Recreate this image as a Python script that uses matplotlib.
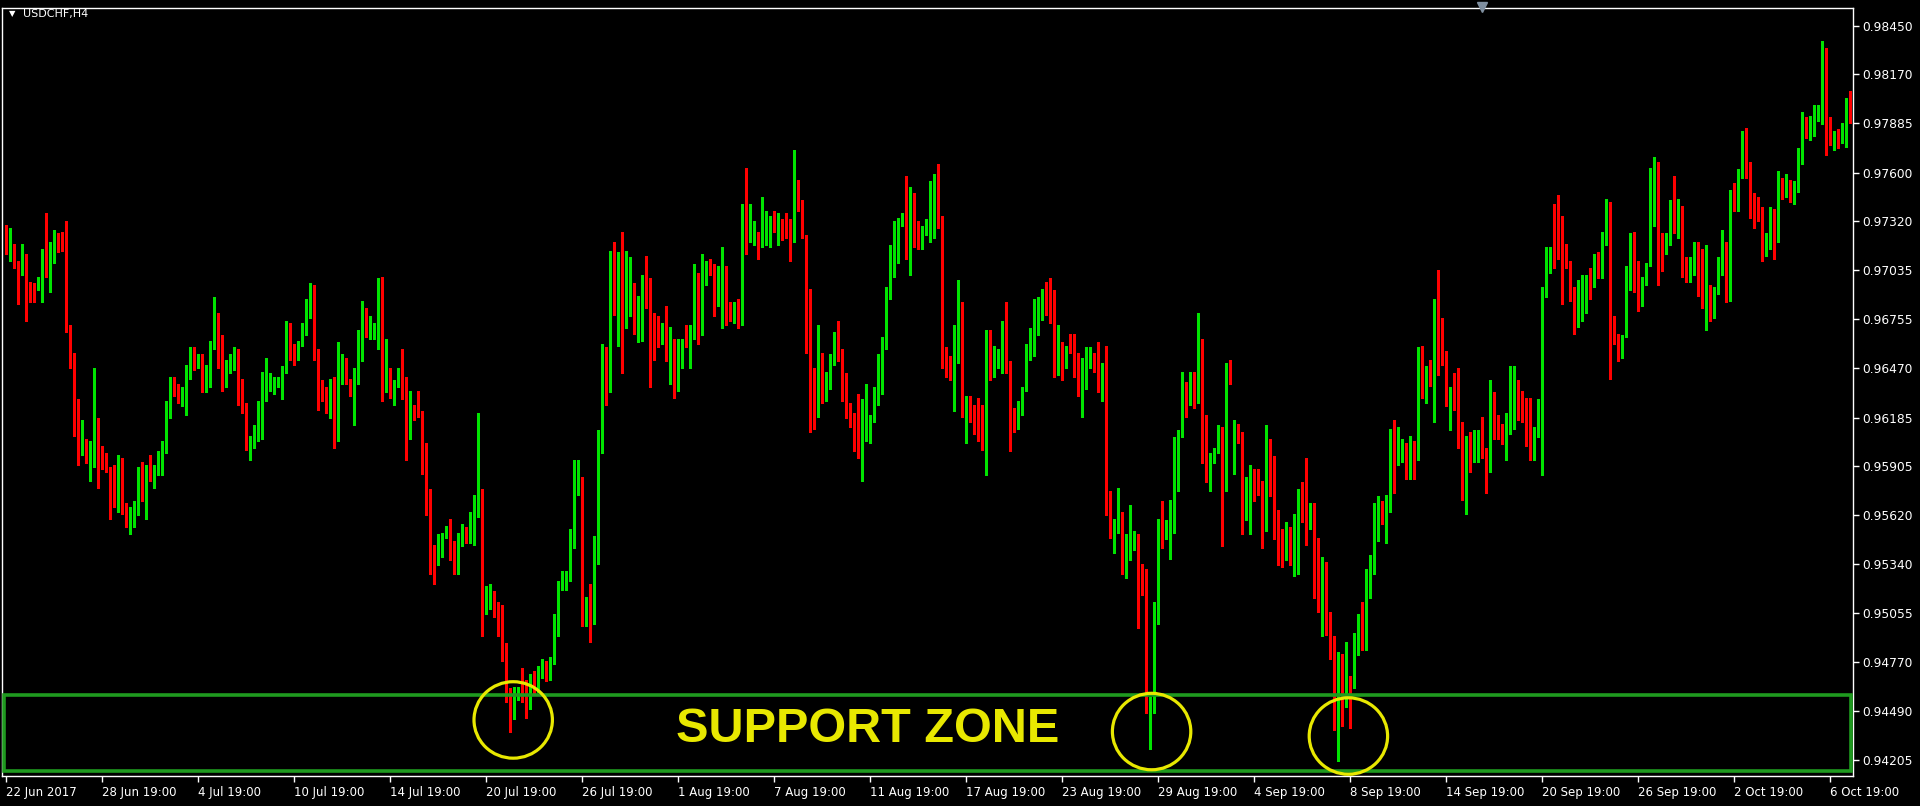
import numpy as np
import matplotlib
matplotlib.use('Agg')
import matplotlib.pyplot as plt
import matplotlib.transforms as mtransforms
from matplotlib.patches import Rectangle, Ellipse

# USDCHF H4 candles, prices stored as pips above 0.94000
BASE, PIP = 0.94, 0.0001

opens_pips = [
    319, 316, 317, 306, 303, 312, 293, 295, 292, 299, 310, 304, 317, 322, 320, 318, 269, 256, 224, 199,
    204, 202, 203, 217, 200, 195, 189, 182, 167, 192, 164, 157, 166, 169, 185, 178, 189, 183, 189, 196,
    203, 220, 242, 235, 228, 229, 241, 252, 250, 251, 243, 248, 262, 271, 249, 238, 245, 250, 253, 234,
    222, 200, 205, 208, 220, 232, 239, 234, 239, 240, 245, 269, 260, 255, 261, 270, 285, 286, 257, 234,
    231, 222, 232, 206, 242, 250, 239, 232, 241, 254, 282, 266, 269, 270, 290, 236, 246, 228, 238, 242,
    237, 209, 226, 222, 222, 198, 174, 141, 137, 147, 150, 155, 137, 135, 145, 155, 149, 158, 164, 168,
    107, 111, 114, 112, 108, 86, 58, 51, 55, 60, 56, 52, 69, 64, 71, 75, 70, 78, 95, 123,
    126, 129, 144, 183, 184, 106, 114, 101, 139, 209, 248, 246, 315, 302, 310, 279, 286, 292, 269, 283,
    300, 294, 265, 263, 261, 265, 251, 254, 250, 254, 261, 260, 268, 299, 290, 307, 308, 307, 288, 292,
    301, 284, 278, 283, 275, 337, 322, 325, 326, 319, 322, 326, 333, 326, 333, 329, 328, 320, 348, 339,
    324, 272, 241, 220, 251, 234, 239, 253, 258, 255, 238, 224, 214, 202, 198, 206, 218, 221, 233, 251,
    258, 293, 303, 317, 331, 336, 313, 347, 325, 321, 327, 327, 339, 355, 334, 255, 251, 245, 250, 285,
    219, 227, 219, 215, 211, 207, 257, 250, 253, 258, 272, 250, 219, 217, 220, 235, 257, 262, 269, 280,
    293, 285, 284, 253, 260, 249, 260, 258, 252, 237, 243, 251, 255, 247, 236, 248, 166, 152, 152, 162,
    129, 139, 148, 151, 133, 123, 54, 54, 104, 155, 153, 156, 156, 192, 207, 233, 229, 236, 232, 263,
    217, 184, 193, 200, 213, 188, 248, 196, 214, 210, 161, 174, 183, 179, 178, 157, 199, 183, 154, 150,
    139, 148, 136, 155, 164, 163, 158, 164, 130, 121, 125, 103, 84, 52, 73, 60, 65, 68, 92, 99,
    85, 126, 128, 158, 170, 164, 167, 210, 196, 194, 204, 193, 196, 195, 254, 237, 243, 242, 270, 258,
    257, 226, 234, 233, 206, 182, 198, 194, 206, 209, 198, 193, 226, 212, 210, 208, 212, 226, 238, 226,
    224, 212, 201, 211, 212, 294, 306, 313, 312, 311, 310, 305, 292, 273, 284, 293, 297, 307, 310, 303,
    321, 337, 264, 264, 258, 265, 296, 322, 309, 284, 298, 306, 349, 359, 321, 320, 322, 340, 337, 340,
    301, 299, 304, 314, 306, 288, 292, 283, 291, 302, 308, 292, 346, 345, 358, 375, 366, 347, 336, 333,
    314, 321, 336, 321, 351, 347, 351, 349, 350, 370, 388, 381, 386, 391, 395, 427, 385, 379, 382, 381,
    386, 399, 402,
]
highs_pips = [
    330, 328, 319, 309, 319, 313, 297, 296, 300, 316, 337, 320, 327, 325, 326, 332, 272, 256, 229, 217,
    206, 205, 247, 218, 202, 198, 190, 191, 197, 195, 169, 167, 170, 190, 193, 191, 197, 191, 199, 205,
    228, 242, 242, 238, 236, 249, 259, 259, 255, 255, 249, 263, 288, 279, 266, 252, 255, 259, 258, 241,
    227, 208, 214, 228, 245, 253, 244, 242, 242, 248, 274, 273, 261, 263, 273, 287, 296, 295, 258, 240,
    236, 241, 242, 262, 255, 253, 241, 247, 269, 286, 282, 277, 273, 299, 300, 264, 247, 240, 247, 258,
    242, 234, 226, 234, 222, 204, 177, 145, 151, 152, 156, 160, 147, 152, 157, 155, 164, 174, 221, 177,
    121, 122, 118, 112, 110, 88, 62, 63, 63, 74, 67, 70, 72, 75, 79, 78, 80, 105, 124, 130,
    130, 154, 194, 194, 184, 115, 122, 150, 211, 261, 259, 315, 320, 314, 326, 315, 311, 296, 289, 301,
    312, 299, 279, 277, 273, 283, 271, 264, 264, 264, 272, 272, 307, 302, 313, 309, 310, 307, 306, 317,
    306, 285, 285, 287, 342, 363, 342, 332, 326, 346, 338, 335, 338, 337, 333, 337, 333, 373, 356, 344,
    324, 293, 247, 272, 256, 245, 255, 268, 274, 258, 244, 227, 221, 232, 229, 238, 220, 236, 255, 265,
    294, 318, 332, 334, 337, 358, 352, 348, 332, 329, 333, 355, 359, 365, 335, 259, 254, 272, 298, 285,
    231, 231, 226, 230, 226, 269, 269, 260, 258, 274, 285, 251, 224, 228, 236, 261, 270, 287, 288, 293,
    297, 299, 292, 272, 262, 260, 267, 267, 256, 253, 259, 259, 256, 262, 250, 260, 176, 160, 178, 164,
    151, 168, 153, 151, 134, 131, 57, 112, 160, 170, 159, 171, 207, 211, 245, 239, 245, 245, 279, 264,
    220, 198, 201, 214, 213, 250, 252, 217, 215, 210, 184, 191, 189, 189, 182, 214, 206, 196, 165, 154,
    158, 155, 163, 177, 181, 195, 169, 169, 149, 138, 135, 106, 92, 83, 82, 89, 69, 94, 105, 112,
    131, 139, 169, 173, 170, 174, 212, 217, 213, 206, 204, 208, 205, 259, 260, 248, 252, 287, 304, 276,
    257, 236, 244, 247, 216, 208, 210, 211, 211, 219, 201, 240, 233, 220, 215, 221, 248, 248, 240, 234,
    230, 230, 213, 229, 294, 317, 317, 342, 347, 335, 319, 309, 294, 298, 301, 301, 305, 313, 314, 326,
    345, 343, 277, 267, 266, 306, 325, 326, 309, 300, 308, 363, 369, 366, 325, 325, 344, 358, 345, 341,
    311, 311, 320, 320, 316, 318, 295, 294, 311, 327, 320, 350, 354, 362, 384, 386, 366, 348, 346, 340,
    325, 340, 339, 361, 357, 359, 356, 355, 374, 395, 392, 393, 399, 399, 436, 432, 392, 384, 385, 389,
    403, 407, 405,
]
lows_pips = [
    313, 309, 305, 284, 301, 274, 285, 285, 292, 285, 300, 291, 308, 314, 315, 268, 247, 208, 191, 197,
    192, 182, 190, 178, 189, 187, 160, 167, 164, 163, 155, 151, 155, 162, 170, 160, 182, 178, 185, 185,
    198, 218, 231, 227, 225, 220, 241, 246, 247, 233, 233, 236, 258, 247, 234, 236, 244, 246, 226, 221,
    200, 194, 201, 205, 206, 228, 234, 232, 236, 229, 244, 252, 249, 252, 260, 266, 276, 252, 223, 228,
    221, 218, 201, 205, 238, 238, 231, 214, 238, 251, 265, 264, 264, 258, 228, 233, 230, 226, 236, 229,
    194, 206, 217, 219, 186, 162, 128, 122, 133, 138, 149, 136, 128, 128, 144, 146, 146, 145, 161, 92,
    105, 108, 103, 92, 78, 54, 37, 44, 55, 54, 45, 50, 58, 60, 68, 66, 67, 76, 92, 119,
    119, 124, 143, 174, 98, 98, 89, 99, 134, 198, 226, 233, 278, 260, 244, 270, 277, 267, 262, 263,
    282, 236, 252, 259, 261, 251, 238, 230, 234, 247, 259, 247, 264, 261, 266, 295, 301, 277, 283, 270,
    272, 274, 273, 270, 272, 313, 320, 318, 310, 317, 318, 317, 326, 318, 321, 322, 309, 320, 338, 322,
    256, 210, 212, 219, 227, 228, 235, 249, 251, 228, 218, 213, 199, 195, 182, 205, 204, 216, 226, 232,
    258, 287, 300, 308, 329, 310, 301, 317, 316, 316, 324, 320, 322, 328, 247, 242, 240, 222, 250, 219,
    204, 216, 209, 205, 200, 185, 240, 242, 247, 244, 244, 199, 210, 212, 220, 234, 252, 254, 266, 275,
    278, 273, 242, 243, 240, 247, 256, 242, 231, 219, 235, 247, 245, 233, 228, 162, 149, 140, 152, 128,
    126, 136, 142, 97, 116, 48, 27, 48, 99, 143, 148, 137, 152, 176, 207, 219, 226, 224, 227, 192,
    181, 176, 192, 198, 144, 176, 238, 186, 204, 151, 159, 151, 170, 174, 143, 153, 173, 148, 133, 132,
    136, 133, 127, 128, 158, 145, 154, 114, 106, 92, 93, 79, 38, 20, 40, 51, 39, 62, 81, 84,
    84, 114, 128, 147, 157, 146, 164, 175, 191, 193, 183, 183, 183, 194, 230, 227, 237, 216, 243, 249,
    225, 211, 223, 201, 171, 163, 187, 193, 193, 195, 175, 187, 206, 206, 203, 194, 209, 212, 217, 216,
    202, 194, 194, 207, 185, 288, 302, 305, 310, 284, 305, 286, 267, 271, 274, 279, 287, 294, 299, 299,
    318, 241, 261, 251, 253, 265, 292, 291, 280, 283, 295, 306, 329, 295, 303, 313, 318, 325, 322, 300,
    297, 297, 301, 289, 282, 269, 274, 276, 290, 301, 285, 286, 338, 338, 357, 357, 334, 328, 332, 309,
    312, 316, 310, 320, 345, 346, 343, 342, 349, 365, 380, 379, 381, 390, 388, 370, 376, 373, 374, 377,
    375, 389, 380,
]
closes_pips = [
    314, 317, 306, 303, 311, 293, 291, 293, 299, 310, 304, 317, 322, 320, 318, 269, 255, 223, 200, 204,
    202, 204, 217, 200, 194, 188, 182, 167, 192, 163, 157, 166, 169, 185, 178, 189, 184, 189, 197, 204,
    220, 242, 235, 228, 230, 242, 253, 250, 251, 243, 249, 262, 271, 248, 238, 246, 250, 252, 234, 222,
    200, 206, 209, 220, 233, 239, 240, 240, 241, 246, 269, 260, 255, 262, 270, 286, 286, 257, 233, 230,
    222, 232, 207, 242, 250, 238, 232, 241, 254, 282, 270, 270, 270, 291, 236, 245, 233, 238, 242, 237,
    208, 226, 224, 221, 197, 173, 141, 137, 147, 150, 155, 137, 135, 145, 155, 149, 158, 164, 168, 107,
    111, 114, 111, 107, 85, 58, 57, 56, 61, 55, 52, 69, 64, 71, 75, 70, 78, 96, 123, 126,
    129, 145, 183, 184, 106, 114, 101, 139, 209, 248, 246, 315, 302, 310, 279, 286, 287, 270, 283, 300,
    295, 265, 264, 261, 265, 251, 254, 250, 255, 261, 260, 268, 299, 290, 307, 308, 306, 288, 292, 301,
    284, 278, 283, 275, 337, 322, 327, 326, 319, 322, 327, 333, 326, 333, 328, 327, 320, 348, 339, 324,
    271, 240, 220, 251, 234, 239, 254, 258, 254, 238, 224, 214, 202, 198, 207, 219, 219, 234, 252, 258,
    293, 303, 318, 332, 336, 313, 347, 323, 324, 327, 328, 340, 355, 333, 256, 250, 245, 251, 284, 219,
    228, 219, 214, 211, 208, 257, 246, 253, 258, 272, 249, 219, 216, 221, 236, 257, 262, 269, 280, 293,
    284, 283, 253, 261, 251, 260, 258, 252, 237, 244, 251, 255, 246, 235, 248, 166, 164, 153, 162, 129,
    140, 149, 151, 132, 123, 54, 55, 104, 155, 153, 157, 157, 193, 207, 234, 229, 236, 232, 263, 216,
    185, 193, 200, 213, 188, 248, 246, 214, 210, 161, 175, 183, 178, 177, 157, 199, 183, 153, 150, 139,
    147, 135, 156, 164, 162, 158, 164, 129, 121, 125, 102, 83, 52, 73, 60, 65, 43, 93, 99, 85,
    127, 129, 161, 170, 164, 167, 210, 198, 198, 204, 193, 196, 195, 254, 237, 243, 242, 270, 258, 256,
    226, 234, 232, 205, 182, 198, 194, 206, 209, 197, 193, 226, 213, 209, 208, 212, 227, 238, 226, 223,
    212, 201, 211, 212, 294, 306, 313, 312, 310, 309, 305, 292, 274, 285, 293, 298, 295, 310, 303, 322,
    337, 264, 261, 258, 266, 297, 322, 307, 285, 298, 307, 349, 359, 321, 320, 322, 340, 337, 340, 301,
    299, 305, 314, 306, 283, 292, 277, 291, 302, 308, 292, 346, 345, 359, 375, 365, 346, 335, 334, 314,
    322, 336, 321, 351, 347, 351, 349, 350, 370, 388, 380, 386, 392, 395, 427, 385, 377, 383, 381, 386,
    399, 396, 385,
]

price_ticks = [0.98450, 0.98170, 0.97885, 0.97600, 0.97320, 0.97035, 0.96755, 0.96470,
               0.96185, 0.95905, 0.95620, 0.95340, 0.95055, 0.94770, 0.94490, 0.94205]
date_labels = ['22 Jun 2017', '28 Jun 19:00', '4 Jul 19:00', '10 Jul 19:00', '14 Jul 19:00',
               '20 Jul 19:00', '26 Jul 19:00', '1 Aug 19:00', '7 Aug 19:00', '11 Aug 19:00',
               '17 Aug 19:00', '23 Aug 19:00', '29 Aug 19:00', '4 Sep 19:00', '8 Sep 19:00',
               '14 Sep 19:00', '20 Sep 19:00', '26 Sep 19:00', '2 Oct 19:00', '6 Oct 19:00']
BARS_PER_LABEL = 24

zone_low, zone_high = 0.94140, 0.94581
circle_bars = [126.8, 286.4, 335.6]
circle_prices = [0.94437, 0.94370, 0.94344]

o = BASE + np.array(opens_pips) * PIP
h = BASE + np.array(highs_pips) * PIP
l = BASE + np.array(lows_pips) * PIP
c = BASE + np.array(closes_pips) * PIP
x = np.arange(len(o))

BULL, BEAR = '#00e400', '#ff0000'
up = c >= o
cols = np.where(up, BULL, BEAR)
body_lo = np.minimum(o, c)
body_h = np.maximum(np.abs(c - o), 0.6 * PIP)

fig = plt.figure(figsize=(19.2, 8.06), dpi=100, facecolor='black')
ax = fig.add_axes([2 / 1920, 1 - 776 / 806, 1851 / 1920, 768 / 806])
ax.set_facecolor('black')

ax.vlines(x, l, h, colors=cols, linewidth=0.75, antialiased=False)
ax.bar(x, body_h, bottom=body_lo, width=0.75, color=cols, linewidth=0, antialiased=False)

ax.set_xlim(-1.0, 461.75)
ax.set_ylim(BASE + 11.3 * PIP, BASE + 455.2 * PIP)

# support zone box, circles and label
trans = mtransforms.blended_transform_factory(ax.transAxes, ax.transData)
ax.add_patch(Rectangle((0.0012, zone_low), 0.9975, zone_high - zone_low, transform=trans,
                       fill=False, edgecolor='#1f9a1f', linewidth=2.6, zorder=5))
for cb, cp in zip(circle_bars, circle_prices):
    ax.add_patch(Ellipse((cb, cp), 19.6, 0.00442, fill=False, edgecolor='#e8e800',
                         linewidth=2.3, zorder=6))
ax.text(215.5, 0.94380, 'SUPPORT ZONE', color='#e8e800', fontsize=35, fontweight='bold',
        family='Liberation Sans', ha='center', va='center', zorder=6)

# axes styling, MT4 look
for sp in ax.spines.values():
    sp.set_color('white')
    sp.set_linewidth(1)
ax.yaxis.tick_right()
ax.set_yticks(price_ticks, [f'{v:.5f}' for v in price_ticks])
ax.set_xticks(np.arange(len(date_labels)) * BARS_PER_LABEL, date_labels, ha='left')
ax.tick_params(axis='both', colors='white', length=4, width=1, direction='out', labelsize=8.8)
ax.tick_params(axis='y', pad=3)
ax.tick_params(axis='x', pad=3, labelsize=8.5)

fig.text(9 / 1920, 1 - 14 / 806, '\u25bc', color='white', fontsize=6, va='center')
fig.text(23 / 1920, 1 - 14 / 806, 'USDCHF,H4', color='white', fontsize=8, va='center')
fig.lines.append(plt.Line2D([1482 / 1920], [1 - 7 / 806], marker='v', markersize=7,
                            color='#7f8fa0', transform=fig.transFigure))

fig.savefig('out.png', dpi=100, facecolor='black')
